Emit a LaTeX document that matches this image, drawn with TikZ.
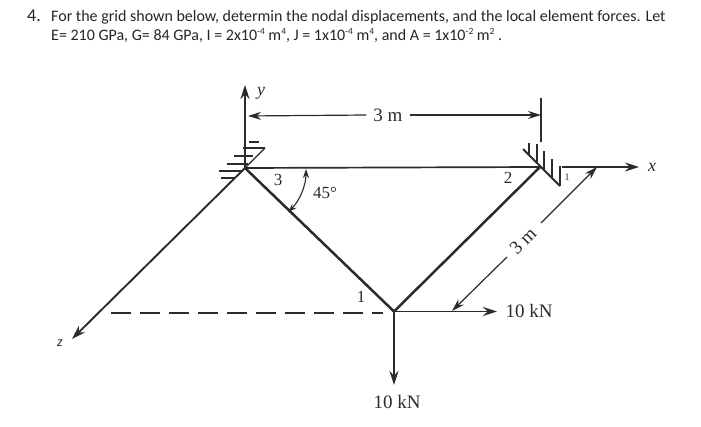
\documentclass[tikz,border=0pt]{standalone}
\usepackage{fontspec}
\setmainfont{Liberation Serif}
\newfontfamily\headfont{Carlito}
\usetikzlibrary{arrows.meta}
\definecolor{ink}{gray}{0.17}
\newcommand{\supr}[1]{\raisebox{0.42em}{\fontsize{9.5}{10}\selectfont #1}}
\tikzset{
  x=1pt,y=-1pt,
  member/.style={draw=ink,line width=2.5pt},
  thinline/.style={draw=ink,line width=1.7pt},
  hatch/.style={draw=ink,line width=1.3pt},
  axis/.style={draw=ink,line width=1.5pt,-{Stealth[length=14pt,width=9pt]}},
  dimline/.style={draw=ink,line width=1.2pt,-{Stealth[length=13pt,width=8pt]}},
  head/.style={inner sep=0pt,anchor=base west,font=\headfont\fontsize{16}{18}\selectfont,text=black!85},
  lab/.style={inner sep=0pt,text=ink,font=\fontsize{19}{20}\selectfont},
  small/.style={inner sep=0pt,text=ink,font=\fontsize{17}{18}\selectfont},
  ital/.style={inner sep=0pt,text=ink,font=\itshape\fontsize{18}{18}\selectfont},
}
\begin{document}
\begin{tikzpicture}
\useasboundingbox[fill=white] (0,0) rectangle (701,427);
% header text
\node[head,font=\headfont\fontsize{18}{20}\selectfont] (num) at (27,22) {4.};
\node[head] (l1) at (51,22) {For the grid shown below, determin the nodal displacements, and the local element forces. Let};
\node[head] (l2) at (51,41) {E= 210 GPa, G= 84 GPa, I = 2x10\supr{-4} m\supr{4}, J = 1x10\supr{-4} m\supr{4}, and A = 1x10\supr{-2} m\supr{2} .};
% key points
\coordinate (A) at (245,168);
\coordinate (B) at (540,167);
\coordinate (N) at (394,311.5);
\coordinate (ytip) at (245,85);
\coordinate (xstart) at (562,167);
\coordinate (xtip) at (639,167);
\coordinate (ztip) at (72,339);
\coordinate (dashL) at (111,313);
\coordinate (dashR) at (383,313);
\coordinate (fx) at (497,311.5);
\coordinate (fy) at (394,385);
% members
\draw[member] (A) -- (N);
\draw[member] (N) -- (B);
\draw[thinline] (A) -- (B);
% axes
\draw[axis] (A) -- (ytip);
\draw[axis] (xstart) -- (xtip);
\draw[axis,line width=1.9pt] (A) -- (ztip);
\draw[draw=ink,line width=1.2pt,dash pattern=on 20pt off 9pt] (dashL) -- (dashR);
% loads
\draw[axis] (N) -- (fx);
\draw[axis] (N) -- (fy);
% left support
\coordinate (Ls) at (265,148);
\draw[hatch] (A) -- (Ls);
\draw[hatch] (243,148) -- (Ls);
\draw[hatch] (234,156) -- (253,156);
\draw[hatch] (227,164) -- (248,164);
\draw[hatch] (219,171) -- (243,171);
\draw[hatch] (221,178) -- (235,178);
\draw[hatch] (249,142) -- (259,142);
% right support
\coordinate (Ra) at (523,149);
\coordinate (Rb) at (560,186);
\draw[member,line width=1.8pt] (Ra) -- (Rb);
\draw[hatch] (529,143) -- (529,155);
\draw[hatch] (537,144) -- (537,162);
\draw[hatch] (544,151) -- (544,170);
\draw[hatch] (552,159) -- (552,178);
\draw[hatch] (560,166) -- (560,186);
% dimensions
\coordinate (tickT) at (541,98);
\coordinate (tickB) at (541,142);
\draw[hatch] (tickT) -- (tickB);
\node[lab] (dimh) at (388,115) {3 m};
\coordinate (dhL) at (248,116);
\coordinate (dhR) at (541,115);
\draw[dimline] (dimh.west) ++(-7,0) -- (dhL);
\draw[dimline] (dimh.east) ++(7,0) -- (dhR);
\node[lab,rotate=45] (dimd) at (523,241) {3 m};
\coordinate (ddT) at (597,167);
\coordinate (ddB) at (452,311);
\draw[dimline] (541,223) -- (ddT);
\draw[dimline] (507,257) -- (ddB);
% angle
\draw[draw=ink,line width=1.1pt,{Stealth[length=9pt,width=6pt]}-{Stealth[length=9pt,width=6pt]}] (306,169) arc[start angle=0,end angle=45,radius=61];
% labels
\node[small] (n3) at (278,180) {3};
\node[small] (ang) at (325,193) {45°};
\node[small] (n2) at (508,178) {2};
\node[small] (n1) at (361,297) {1};
\node[small,font=\fontsize{10}{10}\selectfont] (nI) at (567,177) {1};
\node[ital] (ly) at (261,93) {y};
\node[ital] (lx) at (652,167) {x};
\node[ital,font=\headfont\itshape\fontsize{14}{14}\selectfont] (lz) at (60,343) {z};
\node[lab] (l10a) at (529,311) {10 kN};
\node[lab] (l10b) at (397,402) {10 kN};
\end{tikzpicture}
\end{document}
